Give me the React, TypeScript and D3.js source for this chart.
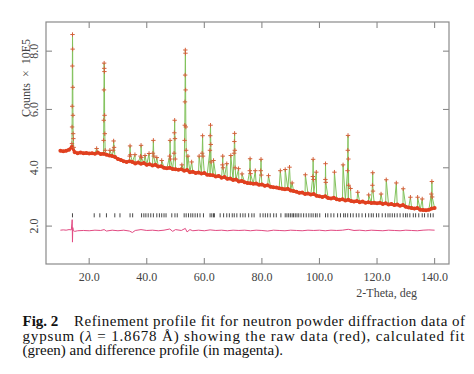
import { useEffect, useRef } from "react";
import * as d3 from "d3";

// observed background between the peaks, one value per degree from 10 to 140
const bgStart = 10;
const background = [
  4.58, 4.57, 4.58, 4.62, 4.72, 4.53, 4.5, 4.52, 4.5, 4.51,
  4.49, 4.5, 4.48, 4.52, 4.47, 4.48, 4.45, 4.42, 4.4, 4.37,
  4.3, 4.27, 4.22, 4.2, 4.22, 4.2, 4.15, 4.18, 4.14, 4.16,
  4.1, 4.12, 4.08, 4.1, 4.04, 4.05, 4.0, 3.98, 4.0, 3.96,
  3.95, 3.93, 3.95, 3.9, 3.92, 3.85, 3.86, 3.82, 3.84, 3.8,
  3.82, 3.76, 3.75, 3.74, 3.7, 3.72, 3.66, 3.68, 3.62, 3.63,
  3.58, 3.6, 3.53, 3.55, 3.5, 3.48, 3.47, 3.45, 3.46, 3.42,
  3.43, 3.38, 3.4, 3.35, 3.33, 3.32, 3.3, 3.28, 3.26, 3.28,
  3.22, 3.2, 3.18, 3.14, 3.15, 3.1, 3.12, 3.08, 3.1, 3.04,
  3.02, 3.0, 3.02, 2.96, 2.95, 2.97, 2.92, 2.9, 2.92, 2.88,
  2.9, 2.86, 2.84, 2.86, 2.82, 2.84, 2.8, 2.82, 2.79, 2.8,
  2.78, 2.8, 2.76, 2.78, 2.74, 2.76, 2.72, 2.74, 2.7, 2.72,
  2.66, 2.64, 2.62, 2.6, 2.62, 2.56, 2.55, 2.54, 2.56, 2.6,
  2.62,
];

// observed points on the Bragg peaks [2-theta, counts x 1e5]
const peakPoints: [number, number][] = [
  [14.02, 4.83], [14.06, 5.4], [14.11, 6.11], [14.16, 7.49], [14.21, 8.57], [14.26, 8.07],
  [14.31, 6.76], [14.36, 5.8], [14.42, 5.17], [14.5, 5.0], [14.6, 4.7],
  [22.6, 4.66],
  [25.02, 4.94], [25.08, 5.63], [25.14, 6.67], [25.2, 7.59], [25.25, 7.41], [25.3, 7.3],
  [25.36, 5.8], [25.43, 5.17], [25.55, 4.6],
  [27.2, 4.6],
  [28.35, 4.6], [28.5, 4.92], [28.65, 4.7],
  [34.05, 4.4], [34.2, 4.75], [34.35, 4.45],
  [35.9, 4.45],
  [37.85, 4.4], [38.02, 4.77], [38.15, 4.35],
  [39.4, 4.42], [40.8, 4.49],
  [42.15, 4.5], [42.3, 4.94], [42.45, 4.4],
  [43.5, 4.35], [45.2, 4.25],
  [47.95, 4.4], [48.1, 4.94], [48.25, 4.3],
  [49.5, 4.5], [49.6, 5.2], [49.7, 5.63], [49.8, 5.0], [49.9, 4.3],
  [52.2, 4.1],
  [53.15, 4.94], [53.22, 5.46], [53.28, 6.26], [53.34, 7.18], [53.4, 8.04], [53.45, 7.93],
  [53.5, 6.67], [53.58, 5.4], [53.7, 4.6],
  [54.3, 4.4], [55.6, 4.2], [58.2, 4.4],
  [59.25, 4.5], [59.4, 5.1], [59.55, 4.4],
  [61.95, 4.6], [62.05, 5.1], [62.15, 5.46], [62.25, 4.8], [62.35, 4.2],
  [63.2, 4.25],
  [66.3, 4.1], [66.4, 4.4], [66.5, 4.0],
  [67.8, 4.14], [69.2, 4.42],
  [70.35, 4.5], [70.45, 4.9], [70.52, 5.18], [70.6, 4.6], [70.7, 4.0],
  [71.9, 3.97], [73.1, 3.79],
  [75.8, 3.9], [75.9, 4.31], [76.05, 3.8],
  [77.7, 3.9],
  [79.6, 3.9], [79.7, 4.29], [79.8, 3.75],
  [82.3, 3.73], [86.4, 3.9], [88.1, 3.94], [89.6, 4.02], [90.5, 3.48], [95.1, 3.76],
  [97.7, 3.7], [97.8, 4.29], [97.9, 3.6],
  [98.9, 3.85],
  [102.05, 3.6], [102.1, 4.14], [102.2, 3.5],
  [105.2, 3.85], [108.2, 4.1],
  [109.75, 3.9], [109.85, 4.6], [109.92, 5.11], [110.05, 4.3], [110.15, 3.4],
  [110.8, 3.29], [113.3, 3.16], [117.1, 3.07],
  [118.4, 3.4], [118.5, 3.83], [118.6, 3.2],
  [121.4, 3.1], [123.2, 3.59], [126.7, 3.48], [129.1, 3.28], [131.6, 2.99],
  [134.1, 2.99], [135.7, 2.93],
  [138.85, 3.1], [139.05, 3.53], [139.15, 3.0],
];

// reflection positions (tick row)
const reflections = [
  14.2, 21.75, 23.7, 26.0, 28.9, 30.7, 34.2, 35.1, 38.2, 39.0, 39.7, 40.5, 41.4, 42.3, 43.5,
  44.4, 45.2, 46.0, 46.7, 48.7, 49.8, 50.6, 53.0, 53.7, 54.5, 55.3, 56.0, 56.8, 57.6, 58.5,
  59.7, 62.0, 62.6, 63.2, 63.5, 65.5, 66.7, 67.8, 68.7, 69.7, 70.4, 71.3, 72.5, 73.4, 74.2,
  75.4, 76.5, 77.3, 79.4, 80.4, 81.2, 82.0, 82.9, 84.1, 85.0, 86.6, 88.1, 88.7, 89.3, 89.9,
  90.5, 91.0, 91.6, 92.2, 92.8, 93.6, 94.5, 95.4, 96.3, 97.1, 97.8, 98.6, 99.2, 100.1, 102.1,
  102.9, 104.0, 105.0, 106.3, 107.3, 108.4, 109.0, 109.8, 110.8, 111.7, 112.8, 113.7, 114.8,
  116.0, 117.1, 118.0, 118.7, 119.8, 120.6, 121.8, 122.9, 123.8, 124.5, 125.3, 126.1, 127.0,
  128.0, 129.1, 129.9, 130.5, 131.4, 132.6, 133.4, 134.5, 135.7, 136.5, 137.7, 138.6, 139.5,
];

// difference profile [2-theta, counts]
const difference: [number, number][] = [
  [10, 1.86], [11, 1.87], [12, 1.86], [13, 1.88], [13.8, 1.87], [14.0, 2.1], [14.1, 2.22],
  [14.2, 1.45], [14.3, 1.95], [14.5, 1.84], [15, 1.82], [16, 1.84], [18, 1.85], [20, 1.84],
  [22, 1.86], [24, 1.85], [25.2, 1.88], [26, 1.83], [28, 1.86], [30, 1.84], [32, 1.86],
  [34, 1.83], [35, 1.78], [36, 1.85], [38, 1.88], [40, 1.85], [42, 1.86], [44, 1.84],
  [46, 1.86], [48, 1.9], [49, 1.82], [50, 1.88], [52, 1.85], [53.4, 1.92], [54, 1.8],
  [55, 1.88], [56, 1.84], [58, 1.86], [60, 1.84], [62, 1.87], [64, 1.85], [66, 1.86],
  [68, 1.84], [70, 1.86], [72, 1.85], [74, 1.86], [76, 1.84], [78, 1.86], [80, 1.85],
  [82, 1.83], [84, 1.86], [86, 1.85], [88, 1.84], [90, 1.86], [92, 1.85], [94, 1.84],
  [96, 1.86], [98, 1.85], [100, 1.86], [102, 1.84], [104, 1.86], [106, 1.85], [108, 1.86],
  [110, 1.89], [112, 1.85], [114, 1.86], [116, 1.84], [118, 1.86], [120, 1.85], [122, 1.84],
  [124, 1.86], [126, 1.85], [128, 1.84], [130, 1.86], [132, 1.85], [134, 1.84], [136, 1.86],
  [138, 1.87], [140, 1.86],
];

const xTicks = [20, 40, 60, 80, 100, 120, 140];
const yTicks = [2, 4, 6, 8];

const serif = "'Liberation Serif', 'DejaVu Serif', serif";

export default function App() {
  const ref = useRef<SVGGElement>(null);

  useEffect(() => {
    const svg = d3.select(ref.current);
    svg.selectAll("*").remove();

    const left = 46, right = 449, top = 22, bottom = 264;
    const x = d3.scaleLinear().domain([5, 145]).range([left, right]);
    const y = d3.scaleLinear().domain([0.7, 9.0]).range([bottom, top]);

    const bgPoints: [number, number][] = background.map((v, i) => [bgStart + i, v]);
    const observed = [...bgPoints, ...peakPoints].sort((a, b) => a[0] - b[0]);

    const line = d3
      .line<[number, number]>()
      .x((d) => x(d[0]))
      .y((d) => y(d[1]));

    // frame
    svg
      .append("rect")
      .attr("x", left)
      .attr("y", top)
      .attr("width", right - left)
      .attr("height", bottom - top)
      .attr("fill", "none")
      .attr("stroke", "#8a8a8a")
      .attr("stroke-width", 1.2);

    // inward ticks on all four sides
    const tick = 6;
    const tg = svg.append("g").attr("stroke", "#8a8a8a").attr("stroke-width", 1.1);
    xTicks.forEach((t) => {
      tg.append("line").attr("x1", x(t)).attr("x2", x(t)).attr("y1", bottom).attr("y2", bottom - tick);
      tg.append("line").attr("x1", x(t)).attr("x2", x(t)).attr("y1", top).attr("y2", top + tick);
    });
    yTicks.forEach((t) => {
      tg.append("line").attr("x1", left).attr("x2", left + tick).attr("y1", y(t)).attr("y2", y(t));
      tg.append("line").attr("x1", right).attr("x2", right - tick).attr("y1", y(t)).attr("y2", y(t));
    });

    // x tick labels
    svg
      .append("g")
      .selectAll("text")
      .data(xTicks)
      .enter()
      .append("text")
      .attr("x", (d) => x(d))
      .attr("y", 280.5)
      .attr("text-anchor", "middle")
      .style("font-family", serif)
      .style("font-size", "12px")
      .style("fill", "#444")
      .text((d) => d.toFixed(1));

    // y tick labels (rotated)
    svg
      .append("g")
      .selectAll("text")
      .data(yTicks)
      .enter()
      .append("text")
      .attr("transform", (d) => `translate(37.5,${y(d)}) rotate(-90)`)
      .attr("text-anchor", "middle")
      .style("font-family", serif)
      .style("font-size", "12px")
      .style("fill", "#444")
      .text((d) => d.toFixed(1));

    svg
      .append("text")
      .attr("transform", "translate(30,78) rotate(-90)")
      .attr("text-anchor", "middle")
      .style("font-family", serif)
      .style("font-size", "12px")
      .style("fill", "#444")
      .text("Counts \u00a0× \u00a010E5");

    svg
      .append("text")
      .attr("x", 417)
      .attr("y", 296.5)
      .attr("text-anchor", "end")
      .style("font-family", serif)
      .style("font-size", "12px")
      .style("fill", "#444")
      .text("2-Theta, deg");

    // calculated fit
    svg
      .append("path")
      .attr("d", line(observed))
      .attr("fill", "none")
      .attr("stroke", "#82c25c")
      .attr("stroke-width", 1);

    // observed background band
    svg
      .append("path")
      .attr("d", line(bgPoints))
      .attr("fill", "none")
      .attr("stroke", "#e23a1c")
      .attr("stroke-width", 3);
    svg
      .append("g")
      .selectAll("circle")
      .data(bgPoints)
      .enter()
      .append("circle")
      .attr("cx", (d) => x(d[0]))
      .attr("cy", (d) => y(d[1]))
      .attr("r", 2)
      .attr("fill", "#e0401f");

    // observed markers
    svg
      .append("path")
      .attr(
        "d",
        peakPoints
          .map((d) => {
            const px = x(d[0]), py = y(d[1]);
            return `M${px - 2.2},${py}h4.4M${px},${py - 2.2}v4.4`;
          })
          .join("")
      )
      .attr("stroke", "#d4603a")
      .attr("stroke-width", 1)
      .attr("fill", "none");

    // reflection ticks
    svg
      .append("g")
      .selectAll("line")
      .data(reflections)
      .enter()
      .append("line")
      .attr("x1", (d) => x(d))
      .attr("x2", (d) => x(d))
      .attr("y1", y(2.44))
      .attr("y2", y(2.3))
      .attr("stroke", "#333")
      .attr("stroke-width", 0.9);

    // difference profile
    svg
      .append("path")
      .attr("d", line(difference))
      .attr("fill", "none")
      .attr("stroke", "#e24a82")
      .attr("stroke-width", 1);
  }, []);

  return (
    <svg
      width={474}
      height={374}
      style={{ position: "absolute", left: 0, top: 0, background: "#fff" }}
    >
      <g ref={ref} />
      <g style={{ fontFamily: serif, fontSize: "15px", fill: "#111" }}>
        <text x={22.5} y={326} style={{ fontWeight: "bold" }}>Fig. 2</text>
        <text x={74} y={326} textLength={391} lengthAdjust="spacing">
          Refinement profile fit for neutron powder diffraction data of
        </text>
        <text x={22.5} y={340.5} textLength={442} lengthAdjust="spacing">
          gypsum (<tspan style={{ fontStyle: "italic" }}>λ</tspan> = 1.8678 Å) showing the raw data (red), calculated fit
        </text>
        <text x={22.5} y={355}>(green) and difference profile (in magenta).</text>
      </g>
    </svg>
  );
}
